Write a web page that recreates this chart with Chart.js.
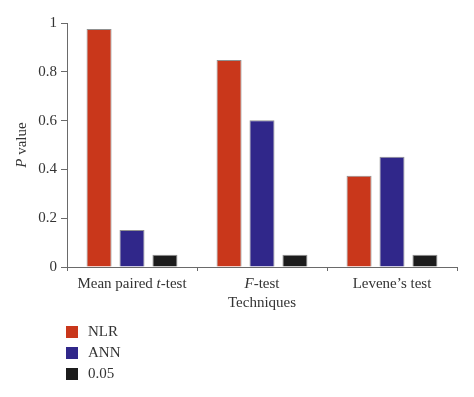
<!DOCTYPE html>
<html>
<head>
<meta charset="utf-8">
<script src="https://cdn.jsdelivr.net/npm/chart.js@4"></script>
<style>
html,body{margin:0;padding:0;background:#fff;}
#wrap{width:474px;height:397px;position:relative;}
</style>
</head>
<body>
<div id="wrap"><canvas id="c" width="474" height="397"></canvas></div>
<script>
// Categories: segments in [text, italic?] pairs for rich labels
const categories = ["Mean paired t-test", "F-test", "Levene\u2019s test"];
const categoryItalic = [["Mean paired ", false, "t", true, "-test", false], ["F", true, "-test", false], ["Levene\u2019s test", false]];
const seriesNames = ["NLR", "ANN", "0.05"];
const nlrValues = [0.975, 0.848, 0.374];
const annValues = [0.152, 0.601, 0.452];
const thresholdValues = [0.05, 0.05, 0.05];
const yTicks = [0, 0.2, 0.4, 0.6, 0.8, 1];
const xTitle = "Techniques";
const yTitleItalic = "P";
const yTitleRest = " value";

const colors = ["#c9371b", "#30278a", "#1c1c1c"];
const FONT = "'Liberation Serif', 'Times New Roman', serif";
const FS = 15;
const axisColor = "#6a6a6a";

const richPlugin = {
  id: 'rich',
  afterDraw(chart) {
    const ctx = chart.ctx;
    const xs = chart.scales.x;
    ctx.save();
    ctx.fillStyle = '#333';
    ctx.textBaseline = 'middle';
    // x tick labels
    categoryItalic.forEach((segs, i) => {
      const parts = [];
      for (let k = 0; k < segs.length; k += 2) parts.push([segs[k], segs[k+1]]);
      let total = 0;
      parts.forEach(p => { ctx.font = (p[1] ? 'italic ' : '') + FS + 'px ' + FONT; total += ctx.measureText(p[0]).width; });
      let x = xs.getPixelForValue(i) - total / 2;
      ctx.textAlign = 'left';
      parts.forEach(p => { ctx.font = (p[1] ? 'italic ' : '') + FS + 'px ' + FONT; ctx.fillText(p[0], x, 284); x += ctx.measureText(p[0]).width; });
    });
    // x title
    ctx.font = FS + 'px ' + FONT;
    ctx.textAlign = 'center';
    ctx.fillText(xTitle, (chart.chartArea.left + chart.chartArea.right) / 2, 303);
    // y title rotated
    ctx.save();
    ctx.translate(22, (chart.chartArea.top + chart.chartArea.bottom) / 2);
    ctx.rotate(-Math.PI / 2);
    ctx.font = 'italic ' + FS + 'px ' + FONT;
    const w1 = ctx.measureText(yTitleItalic).width;
    ctx.font = FS + 'px ' + FONT;
    const w2 = ctx.measureText(yTitleRest).width;
    let x0 = -(w1 + w2) / 2;
    ctx.textAlign = 'left';
    ctx.font = 'italic ' + FS + 'px ' + FONT;
    ctx.fillText(yTitleItalic, x0, 0);
    ctx.font = FS + 'px ' + FONT;
    ctx.fillText(yTitleRest, x0 + w1, 0);
    ctx.restore();
    // legend (vertical)
    chart.data.datasets.forEach((ds, i) => {
      const y = 326 + i * 21;
      ctx.fillStyle = ds.backgroundColor;
      ctx.fillRect(66, y, 12, 12);
      ctx.fillStyle = '#333';
      ctx.font = FS + 'px ' + FONT;
      ctx.textAlign = 'left';
      ctx.fillText(ds.label, 88, y + 6.5);
    });
    ctx.restore();
  }
};

new Chart(document.getElementById('c'), {
  type: 'bar',
  data: {
    labels: categories,
    datasets: [
      { label: seriesNames[0], data: nlrValues, backgroundColor: colors[0] },
      { label: seriesNames[1], data: annValues, backgroundColor: colors[1] },
      { label: seriesNames[2], data: thresholdValues, backgroundColor: colors[2] }
    ].map(d => Object.assign(d, { borderColor: 'rgba(70,70,70,0.6)', borderWidth: 1, categoryPercentage: 0.76, barPercentage: 0.76 }))
  },
  options: {
    responsive: false,
    animation: false,
    devicePixelRatio: 1,
    layout: { padding: { left: 0, right: 17, top: 23, bottom: 0 } },
    plugins: { legend: { display: false }, tooltip: { enabled: false } },
    scales: {
      x: {
        grid: { display: true, drawOnChartArea: false, color: axisColor, tickLength: 4, offset: true },
        border: { display: true, color: axisColor, width: 1 },
        ticks: { display: false },
        afterFit(s) { s.height = 130; }
      },
      y: {
        min: 0, max: 1,
        afterBuildTicks(s) { s.ticks = yTicks.map(v => ({ value: v })); },
        grid: { display: true, drawOnChartArea: false, color: axisColor, tickLength: 6 },
        border: { display: true, color: axisColor, width: 1 },
        ticks: { color: '#333', font: { family: FONT, size: FS }, padding: 4, callback: v => String(v) },
        afterFit(s) { s.width = 67; }
      }
    }
  },
  plugins: [richPlugin]
});
</script>
</body>
</html>
